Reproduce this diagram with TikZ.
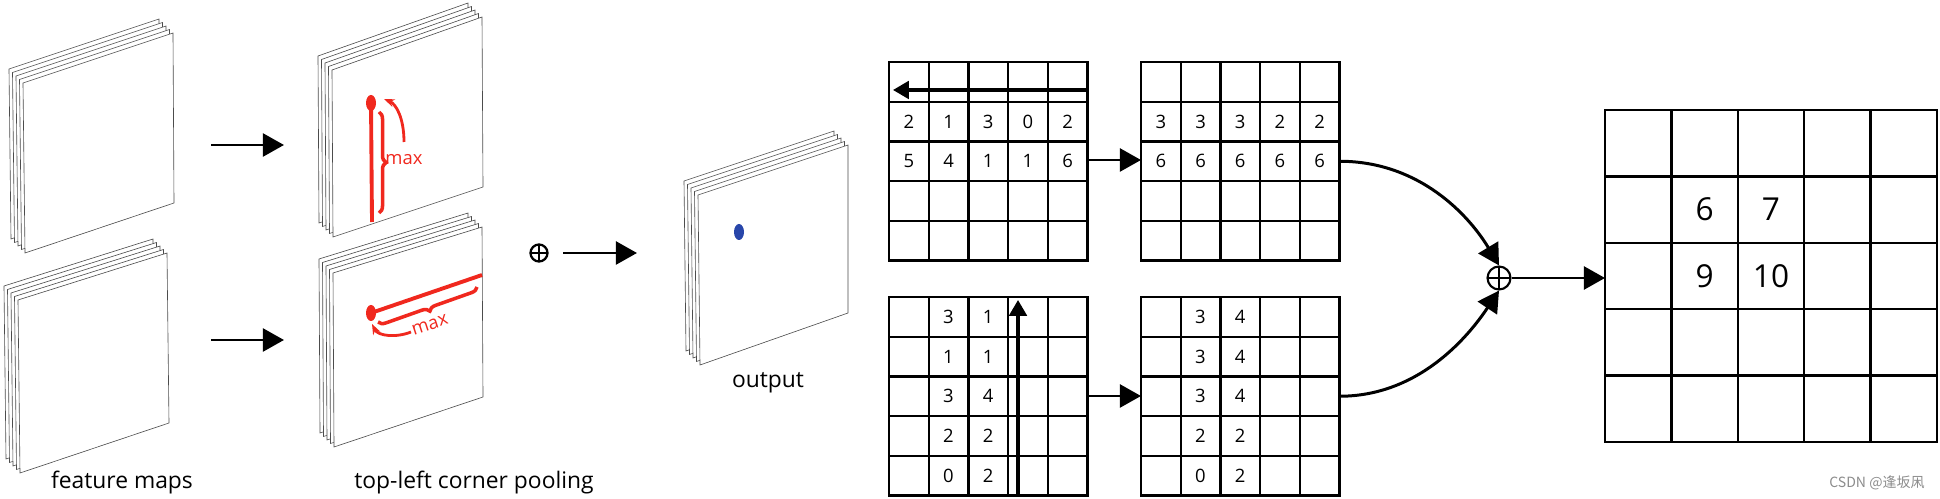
\documentclass[tikz,border=0pt]{standalone}
\usepackage{fontspec}
\setmainfont{Open Sans}
\newfontfamily\cjk{Noto Sans CJK SC}
\usetikzlibrary{arrows.meta,calc,decorations.pathreplacing}

\definecolor{poolred}{RGB}{240,40,30}
\definecolor{dotblue}{RGB}{40,70,170}

\tikzset{
  sheet/.style={fill=white, draw=black!70, line width=0.35pt},
  gridbox/.style={draw, line width=1.3pt, inner sep=0pt, outer sep=0pt, anchor=north west},
  gridline/.style={line width=1.3pt},
  conn/.style={line width=1.7pt, -{Triangle[length=12pt,width=13pt]}},
  sum/.style={circle, draw, line width=1.2pt, inner sep=0pt, minimum size=0.46cm,
    path picture={\draw[line width=1.2pt] (path picture bounding box.north) -- (path picture bounding box.south)
      (path picture bounding box.west) -- (path picture bounding box.east);}},
  label/.style={font=\fontsize{13}{15}\selectfont},
  num/.style={font=\fontsize{10.5}{12}\selectfont}
}

% stack of sheets: four corners of the front sheet
\newcommand\sheets[4]{%
  \foreach \k in {4,...,0}
    \draw[sheet, shift={(-3.5*\k,-3.5*\k)}] #1 -- #2 -- #3 -- #4 -- cycle;
}

% 5x5 grid: name, left, top, cell size
\newcommand\cellgrid[4]{%
  \node[gridbox, minimum width={5*#4*0.02cm}, minimum height={5*#4*0.02cm}] (#1) at (#2,#3) {};
  \foreach \i in {1,...,4} {
    \draw[gridline] ($(#1.north west)+(\i*#4,0)$) -- ++(0,5*#4);
    \draw[gridline] ($(#1.north west)+(0,\i*#4)$) -- ++(5*#4,0);
  }
}

\begin{document}
\begin{tikzpicture}[x=0.02cm, y=-0.02cm]

    \useasboundingbox (0,0) rectangle (1940,499);

    % Feature maps
    \sheets{(23,83)}{(173,33)}{(174,203)}{(25,253)}
    \sheets{(18,300)}{(167,253)}{(169,423)}{(20,473)}
    \node[label] (fmaps) at (122,483) {feature maps};

    % Top-left corner pooling
    \sheets{(332,70)}{(482,17)}{(483,187)}{(333,237)}
    \sheets{(333,273)}{(482,227)}{(483,397)}{(334,447)}
    \node[label] (pool) at (474,483) {top-left corner pooling};

    % Vertical max
    \fill[poolred] (371,103) ellipse (5 and 8);
    \draw[poolred, line width=2.2pt] (371,103) -- (372,222);
    \draw[poolred, line width=2pt, decorate, decoration={brace, amplitude=4pt}] (379,112) -- (379,213);
    \draw[poolred, line width=1.6pt, -{Stealth[length=6pt]}] (404,142) .. controls (404,118) and (396,104) .. (384,99);
    \node[poolred, font=\fontsize{10.5}{12}\selectfont] (vmax) at (404,160) {max};

    % Horizontal max
    \fill[poolred] (371,313) ellipse (5 and 8);
    \draw[poolred, line width=2.2pt] (371,313) -- (482,275);
    \draw[poolred, line width=2pt, decorate, decoration={brace, amplitude=4pt}] (477,287) -- (378,322);
    \draw[poolred, line width=1.6pt, -{Stealth[length=6pt]}] (411,332) .. controls (396,338) and (378,336) .. (372,324);
    \node[poolred, font=\fontsize{10.5}{12}\selectfont, rotate=18] (hmax) at (430,325) {max};

    % Arrows to pooling
    \coordinate (a1) at (211,145);
    \coordinate (b1) at (284,145);
    \coordinate (a2) at (211,340);
    \coordinate (b2) at (284,340);
    \draw[conn] (a1) -- (b1);
    \draw[conn] (a2) -- (b2);

    % Sum and output
    \node[sum, minimum size=0.34cm, line width=1.3pt] (plus) at (539,253) {};
    \coordinate (c1) at (563,253);
    \coordinate (c2) at (637,253);
    \draw[conn] (c1) -- (c2);
    \sheets{(698,195)}{(848,145)}{(848,313)}{(700,365)}
    \fill[dotblue] (739,232) ellipse (5 and 8);
    \node[label] (out) at (768,383) {output};

    % Grids
    \cellgrid{g1}{889}{62}{39.7}
    \cellgrid{g2}{1141}{62}{39.7}
    \cellgrid{g3}{889}{297}{39.7}
    \cellgrid{g4}{1141}{297}{39.7}
    \cellgrid{g5}{1605}{110}{66.4}

    % Numbers
    \foreach \v [count=\c from 0] in {2,1,3,0,2}
      \node[num] at (889+39.7*\c+19.85,62+59.5) {\v};
    \foreach \v [count=\c from 0] in {5,4,1,1,6}
      \node[num] at (889+39.7*\c+19.85,62+99.2) {\v};
    \foreach \v [count=\c from 0] in {3,3,3,2,2}
      \node[num] at (1141+39.7*\c+19.85,62+59.5) {\v};
    \foreach \v [count=\c from 0] in {6,6,6,6,6}
      \node[num] at (1141+39.7*\c+19.85,62+99.2) {\v};
    \foreach \a/\b [count=\r from 0] in {3/1,1/1,3/4,2/2,0/2} {
      \node[num] at (889+59.5,297+39.7*\r+19.85) {\a};
      \node[num] at (889+99.2,297+39.7*\r+19.85) {\b};
    }
    \foreach \a/\b [count=\r from 0] in {3/4,3/4,3/4,2/2,0/2} {
      \node[num] at (1141+59.5,297+39.7*\r+19.85) {\a};
      \node[num] at (1141+99.2,297+39.7*\r+19.85) {\b};
    }
    \node[font=\fontsize{18}{20}\selectfont] (n6) at (1605+99.6,110+99.6) {6};
    \node[font=\fontsize{18}{20}\selectfont] (n7) at (1605+166,110+99.6) {7};
    \node[font=\fontsize{18}{20}\selectfont] (n9) at (1605+99.6,110+166) {9};
    \node[font=\fontsize{18}{20}\selectfont] (n10) at (1605+166,110+166) {10};

    % Scan arrows
    \coordinate (s1) at (1088,90);
    \coordinate (t1) at (893,90);
    \draw[line width=1.8pt, -{Triangle[length=9pt,width=10pt]}] (s1) -- (t1);
    \coordinate (s2) at (1018,495);
    \coordinate (t2) at (1018,300);
    \draw[line width=1.8pt, -{Triangle[length=9pt,width=10pt]}] (s2) -- (t2);

    % Connectors
    \draw[conn] (1088,160) -- (1141,160);
    \draw[conn] (1088,396) -- (1141,396);
    \node[sum] (add) at (1499,278) {};
    \draw[conn] (g2.east) .. controls +(80,0) and +(-30,-50) .. (add.north);
    \draw[conn] (g4.east) .. controls +(80,0) and +(-30,45) .. (add.south);
    \draw[conn] (add.east) -- (g5.west |- add.east);

    % Watermark
    \node[black!45, font=\cjk\fontsize{8}{10}\selectfont] (mark) at (1877,483) {CSDN @逢坂凩};

\end{tikzpicture}
\end{document}
